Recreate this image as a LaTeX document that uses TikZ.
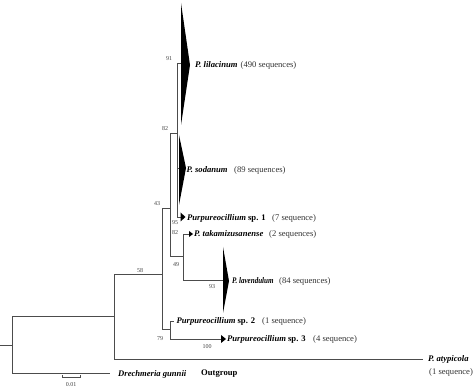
\documentclass[tikz,border=0pt]{standalone}
\usepackage{fontspec}
\setmainfont{Liberation Serif}
\begin{document}
\begin{tikzpicture}[x=1pt,y=-1pt,
  br/.style={draw=black!70,line width=0.7pt},
  taxon/.style={anchor=west,inner sep=0pt,font=\fontsize{8.6}{10}\selectfont\bfseries},
  cnt/.style={anchor=west,inner sep=0pt,font=\fontsize{8.6}{10}\selectfont,text=black!80},
  bs/.style={inner sep=0pt,font=\fontsize{6}{7}\selectfont,text=black!75}]
\useasboundingbox (0,0) rectangle (474,387);
% tree points
\coordinate (st) at (0,345);
\coordinate (rt) at (12,345);
\coordinate (n58) at (114,316.5);
\coordinate (dre) at (110,373);
\coordinate (n43) at (162,274.5);
\coordinate (aty) at (423,359);
\coordinate (nA) at (170,208);
\coordinate (n79) at (170,329);
\coordinate (nB) at (177,133);
\coordinate (n49) at (183,256.7);
\coordinate (lil) at (181,63);
\coordinate (sod) at (179,168);
\coordinate (sp1) at (180.5,217);
\coordinate (tak) at (189,234);
\coordinate (lav) at (223,280);
\coordinate (sp2) at (174,321);
\coordinate (sp3) at (221,339);
% branches
\draw[br] (st) -- (rt);
\draw[br] (rt) |- (n58);
\draw[br] (rt) |- (dre);
\draw[br] (n58) |- (n43);
\draw[br] (n58) |- (aty);
\draw[br] (n43) |- (nA);
\draw[br] (n43) |- (n79);
\draw[br] (nA) |- (nB);
\draw[br] (nA) |- (n49);
\draw[br] (nB) |- (lil);
\draw[br] (nB) |- (sod);
\draw[br] (nB) |- (sp1);
\draw[br] (n49) |- (tak);
\draw[br] (n49) |- (lav);
\draw[br] (n79) |- (sp2);
\draw[br] (n79) |- (sp3);
% collapsed clades
\fill (lil) ++(0,-60) -- ++(9,62) -- ++(-9,60) -- cycle;
\fill (sod) ++(0,-33) -- ++(7,33) -- ++(-7,37) -- cycle;
\fill (sp1) ++(0,-4.5) -- ++(5,4.5) -- ++(-5,4.5) -- cycle;
\fill (tak) ++(0,-3) -- ++(4,3) -- ++(-4,3) -- cycle;
\fill (lav) ++(0,-33) -- ++(6,34) -- ++(-6,32) -- cycle;
\fill (sp3) ++(0,-4) -- ++(5,4) -- ++(-5,4) -- cycle;
% taxon labels
\node[taxon] (tlil) at (195,65) {\itshape P. lilacinum};
\node[cnt] (clil) at (240.5,65) {(490 sequences)};
\node[taxon] (tsod) at (186.5,170) {\itshape P. sodanum};
\node[cnt] (csod) at (234,170) {(89 sequences)};
\node[taxon] (tsp1) at (187,218) {\textit{Purpureocillium} sp. 1};
\node[cnt] (csp1) at (272,218) {(7 sequence)};
\node[taxon] (ttak) at (194,234) {\itshape P. takamizusanense};
\node[cnt] (ctak) at (269,234) {(2 sequences)};
\node[taxon] (tlav) at (232,281) {\scalebox{0.82}[1]{\itshape P. lavendulum}};
\node[cnt] (clav) at (279,281) {(84 sequences)};
\node[taxon] (tsp2) at (176.5,321) {\textit{Purpureocillium} sp. 2};
\node[cnt] (csp2) at (262,321) {(1 sequence)};
\node[taxon] (tsp3) at (227,339) {\textit{Purpureocillium} sp. 3};
\node[cnt] (csp3) at (313,339) {(4 sequence)};
\node[taxon] (taty) at (428,359) {\itshape P. atypicola};
\node[cnt] (caty) at (429,372) {(1 sequence)};
\node[taxon] (tdre) at (118,374) {\itshape Drechmeria gunnii};
\node[taxon] (tout) at (201,374) {Outgroup};
% bootstrap values
\node[bs] (b91) at (169,59) {91};
\node[bs] (b82a) at (165,129) {82};
\node[bs] (b95) at (175,223) {95};
\node[bs] (b43) at (157,204) {43};
\node[bs] (b82b) at (175,233) {82};
\node[bs] (b49) at (176,265) {49};
\node[bs] (b93) at (212,287) {93};
\node[bs] (b58) at (140,271) {58};
\node[bs] (b79) at (160,339) {79};
\node[bs] (b100) at (207,347) {100};
% scale bar
\coordinate (sbL) at (62,377);
\coordinate (sbR) at (80.7,377);
\draw[br] (sbL) ++(0,-2) -- (sbL) -- (sbR) -- ++(0,-2);
\node[bs] (sbt) at (71,384.5) {0.01};
\end{tikzpicture}
\end{document}
